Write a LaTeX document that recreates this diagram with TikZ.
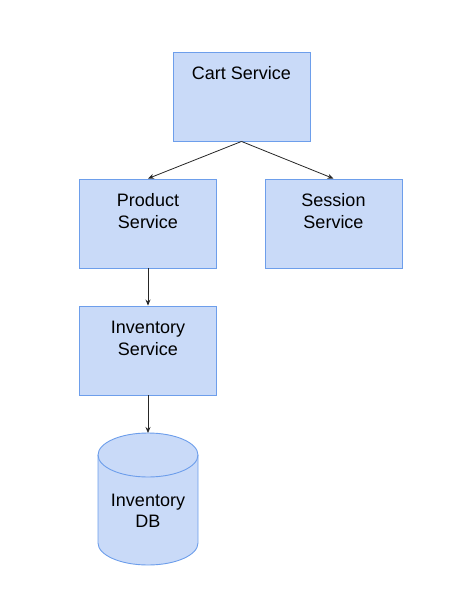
\documentclass[tikz,border=0pt]{standalone}
\usepackage{fontspec}
\setmainfont{Liberation Sans}
\usetikzlibrary{arrows.meta}
\definecolor{boxfill}{HTML}{C9DAF8}
\definecolor{boxline}{HTML}{6D9EEB}
\newcommand{\boxtext}[1]{\parbox[c][89pt][t]{137pt}{\centering\rule{0pt}{27.5pt}#1}}
\begin{document}
\begin{tikzpicture}[x=1pt,y=-1pt,
  svcbox/.style={draw=boxline,fill=boxfill,line width=0.9pt,inner sep=0pt,
    minimum width=137pt,minimum height=89pt,font=\fontsize{18}{22}\selectfont},
  conn/.style={draw=black!85,line width=0.8pt,-{Stealth[length=6pt,width=5pt]}},
  dbshape/.style={draw=boxline,fill=boxfill,line width=0.9pt}]
\useasboundingbox (0,0) rectangle (474,597);
\node[svcbox] (cart) at (241.5,96.5) {\boxtext{Cart Service}};
\node[svcbox] (product) at (148,223.5) {\boxtext{Product\\Service}};
\node[svcbox] (session) at (333.5,223.5) {\boxtext{Session\\Service}};
\node[svcbox] (inventory) at (148,350.5) {\boxtext{Inventory\\Service}};
% cylinder
\path[dbshape] (98,455) -- (98,543)
  arc[start angle=180,end angle=0,x radius=50,y radius=22]
  -- (198,455)
  arc[start angle=0,end angle=-180,x radius=50,y radius=22] -- cycle;
\draw[draw=boxline,line width=0.9pt] (98,455)
  arc[start angle=180,end angle=0,x radius=50,y radius=22];
\coordinate (dbtop) at (148,433);
\node[font=\fontsize{18}{21}\selectfont,align=center,inner sep=0pt] (db) at (148,511) {Inventory\\DB};
\draw[conn] (cart.south) -- (product.north);
\draw[conn] (cart.south) -- (session.north);
\draw[conn] (product.south) -- (inventory.north);
\draw[conn] (inventory.south) -- (dbtop);
\end{tikzpicture}
\end{document}
